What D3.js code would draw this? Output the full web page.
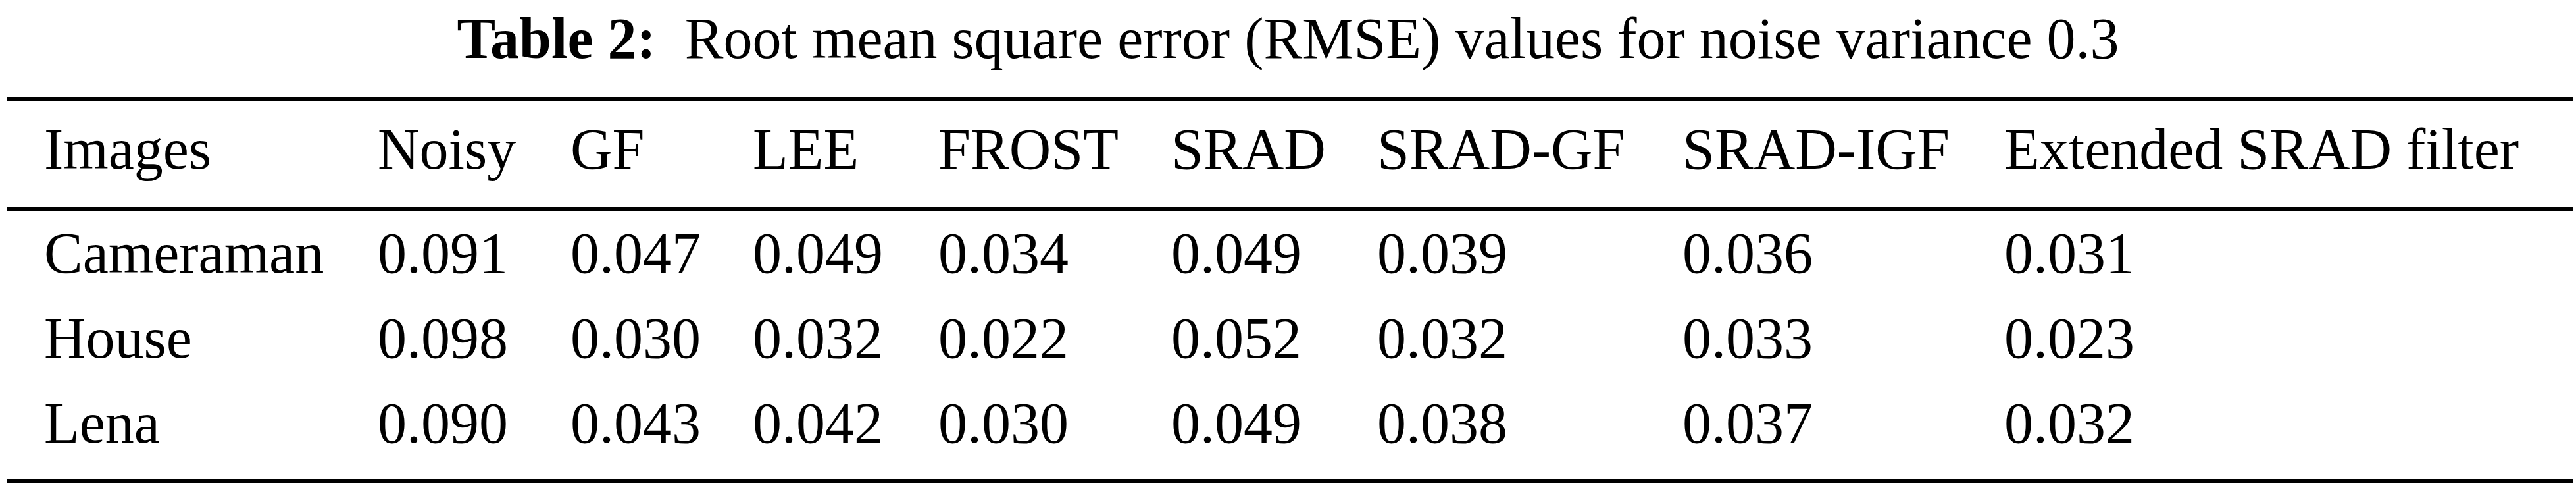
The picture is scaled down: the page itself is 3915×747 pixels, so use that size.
<!DOCTYPE html>
<html>
<head>
<meta charset="utf-8">
<script src="https://cdn.jsdelivr.net/npm/d3@7"></script>
<style>
  body { margin: 0; background: #fff; }
  text { font-family: "Liberation Serif", "DejaVu Serif", serif; fill: #000; }
</style>
</head>
<body>
<svg id="chart"></svg>
<script>
const title = "Root mean square error (RMSE) values for noise variance 0.3"
const columns = ["Images", "Noisy", "GF", "LEE", "FROST", "SRAD", "SRAD-GF", "SRAD-IGF", "Extended SRAD filter"]
const images = ["Cameraman", "House", "Lena"]
const noisy = ["0.091", "0.098", "0.090"]
const gf = ["0.047", "0.030", "0.043"]
const lee = ["0.049", "0.032", "0.042"]
const frost = ["0.034", "0.022", "0.030"]
const srad = ["0.049", "0.052", "0.049"]
const sradGf = ["0.039", "0.032", "0.038"]
const sradIgf = ["0.036", "0.033", "0.037"]
const extSrad = ["0.031", "0.023", "0.032"]

const W = 3915, H = 747
const fs = 88
const svg = d3.select("#chart").attr("width", W).attr("height", H)

// column left edges
const colX = d3.scaleOrdinal().domain(columns)
    .range([67, 574, 867, 1144, 1426, 1780, 2093, 2557, 3046])
const rowY = d3.scalePoint().domain(images).range([414, 672])

const t = svg.append("text").attr("x", W / 2).attr("y", 88)
    .attr("text-anchor", "middle").style("font-size", fs + "px")
t.append("tspan").attr("font-weight", "bold").text("Table 2:")
t.append("tspan").text("\u00a0 " + title)

svg.selectAll("line.rule").data([150, 317, 731]).enter().append("line")
    .attr("x1", 10).attr("x2", 3910).attr("y1", d => d).attr("y2", d => d)
    .attr("stroke", "#000").attr("stroke-width", 6)

svg.selectAll("text.head").data(columns).enter().append("text")
    .attr("x", d => colX(d)).attr("y", 256).style("font-size", fs + "px")
    .text(d => d)

const rows = images.map((name, i) => [name, noisy[i], gf[i], lee[i], frost[i], srad[i], sradGf[i], sradIgf[i], extSrad[i]])

svg.selectAll("g.row").data(rows).enter().append("g")
    .each(function (r) {
        d3.select(this).selectAll("text").data(r).enter().append("text")
            .attr("x", (d, j) => colX(columns[j]))
            .attr("y", rowY(r[0]))
            .style("font-size", fs + "px")
            .text(d => d)
    })
</script>
</body>
</html>
